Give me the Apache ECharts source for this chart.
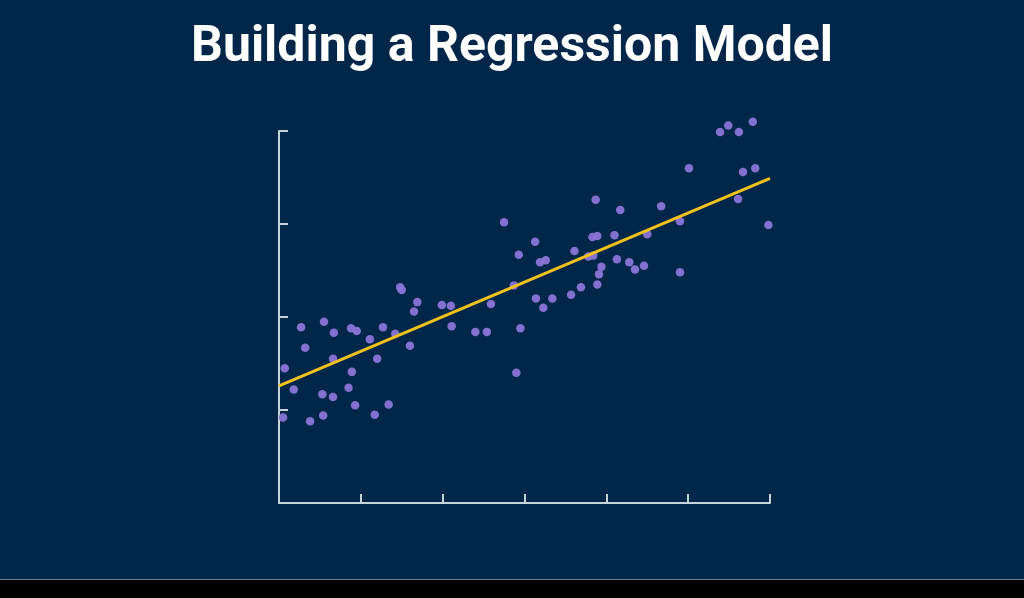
<!DOCTYPE html>
<html><head><meta charset="utf-8">
<script src="https://cdn.jsdelivr.net/npm/echarts@6/dist/echarts.min.js"></script>
<style>html,body{margin:0;padding:0;background:#00264a}#c{width:1024px;height:598px}</style>
</head><body><div id="c"></div>
<script>
const points = [
  [0.5, 9.2], [0.7, 14.5], [1.8, 12.2], [2.7, 18.9], [3.2, 16.7], [3.8, 8.8], [5.3, 11.7], [5.4, 9.4],
  [5.5, 19.5], [6.6, 15.5], [6.6, 11.4], [6.7, 18.3], [8.5, 12.4], [8.8, 18.8], [8.9, 14.1], [9.3, 10.5],
  [9.5, 18.5], [11.1, 17.6], [11.7, 9.5], [12.0, 15.5], [12.7, 18.9], [13.4, 10.6], [14.2, 18.2], [14.8, 23.2],
  [15.0, 22.9], [16.0, 16.9], [16.5, 20.6], [16.9, 21.6], [19.9, 21.3], [21.0, 21.2], [21.1, 19.0], [24.0, 18.4],
  [25.4, 18.4], [25.9, 21.4], [27.5, 30.2], [28.7, 23.4], [29.0, 14.0], [29.3, 26.7], [29.5, 18.8], [31.3, 28.1],
  [31.4, 22.0], [31.9, 25.9], [32.3, 21.0], [32.6, 26.1], [33.4, 22.0], [35.7, 22.4], [36.1, 27.1], [36.9, 23.2],
  [37.8, 26.5], [38.3, 28.6], [38.4, 26.6], [38.7, 32.6], [38.9, 28.7], [38.9, 23.5], [39.1, 24.6], [39.4, 25.4],
  [41.0, 28.8], [41.3, 26.2], [41.7, 31.5], [42.8, 25.9], [43.5, 25.1], [44.6, 25.5], [45.0, 28.9], [46.7, 31.9],
  [49.0, 30.3], [49.0, 24.8], [50.1, 36.0], [53.9, 39.9], [54.9, 40.6], [56.2, 39.9], [56.1, 32.7], [56.7, 35.6],
  [57.9, 41.0], [58.2, 36.0], [59.8, 29.9]
];
const fitLine = [[0, 12.6], [60, 34.9]];
const titleText = 'Building a Regression Model';

const axisCol = '#c9d1d9';
const chart = echarts.init(document.getElementById('c'));
chart.setOption({
  backgroundColor: '#00264a',
  title: { text: titleText, left: 'center', top: 18,
    textStyle: { color: '#fff', fontSize: 50, fontWeight: 'bold', fontFamily: 'Roboto' } },
  grid: { left: 279, right: 254, top: 131, bottom: 95 },
  xAxis: { type: 'value', min: 0, max: 60, interval: 10,
    axisLine: { lineStyle: { color: axisCol, width: 2 } },
    axisTick: { inside: true, length: 9, lineStyle: { color: axisCol, width: 2 } },
    axisLabel: { show: false }, splitLine: { show: false } },
  yAxis: { type: 'value', min: 0, max: 40, interval: 10,
    axisLine: { show: true, lineStyle: { color: axisCol, width: 2 } },
    axisTick: { show: true, inside: true, length: 9, lineStyle: { color: axisCol, width: 2 } },
    axisLabel: { show: false }, splitLine: { show: false } },
  graphic: [
    { type: 'rect', shape: { x: 0, y: 579, width: 1024, height: 1 }, style: { fill: '#6d7f91' } },
    { type: 'rect', shape: { x: 0, y: 580, width: 1024, height: 18 }, style: { fill: '#000' } }
  ],
  series: [
    { type: 'scatter', data: points, symbolSize: 8.5, clip: false,
      itemStyle: { color: '#8b74d6', opacity: 0.95 } },
    { type: 'line', data: fitLine, symbol: 'none', z: 3,
      lineStyle: { color: '#f2c21b', width: 3 } }
  ]
});
</script></body></html>
